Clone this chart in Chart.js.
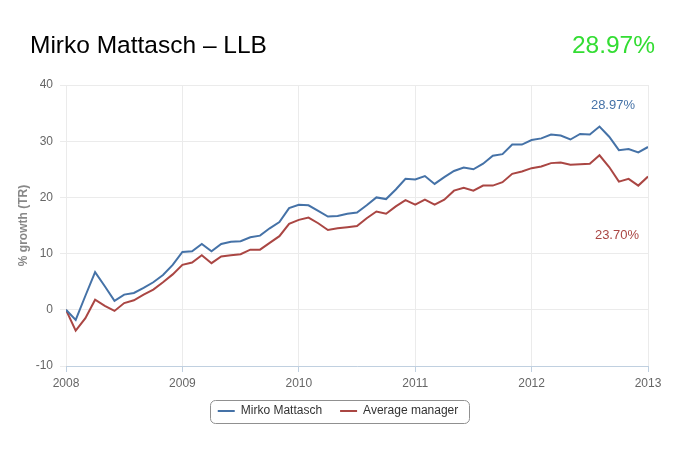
<!DOCTYPE html>
<html lang="en">
<head>
  <meta charset="UTF-8">
  <title>Mirko Mattasch – LLB</title>
  <script src="https://cdn.jsdelivr.net/npm/chart.js"></script>
  <style>
    body { margin: 0; background: #fff; font-family: Arial, 'Liberation Sans', sans-serif; }
    .wrap { position: relative; width: 700px; height: 459px; }
    .head { position: absolute; top: 33px; left: 30px; right: 45px; height: 24px; line-height: 24px; font-size: 24.5px; }
    .head .name { position: absolute; left: 0; color: #000; }
    .head .total { position: absolute; right: 0; color: #33dd33; }
    canvas { position: absolute; left: 0; top: 0; }
  </style>
</head>
<body>
  <div class="wrap">
    <canvas id="growthChart" width="700" height="459"></canvas>
    <div class="head">
      <span class="name">Mirko Mattasch – LLB</span>
      <span class="total" id="total"></span>
    </div>
  </div>

  <script>
    // monthly cumulative growth, Jan 2008 .. Jan 2013
    const startYear = 2008;
    const years = [2008, 2009, 2010, 2011, 2012, 2013];
    const yTicks = [-10, 0, 10, 20, 30, 40];
    const seriesNames = ['Mirko Mattasch', 'Average manager'];

    const mirko = [
      0, -1.8, 2.5, 6.7, 4.2, 1.6, 2.7, 3.0, 3.9, 4.9, 6.2, 8.0,
      10.3, 10.4, 11.7, 10.4, 11.7, 12.1, 12.2, 12.9, 13.2, 14.5, 15.6, 18.1,
      18.7, 18.6, 17.6, 16.6, 16.7, 17.1, 17.3, 18.6, 20.0, 19.7, 21.4, 23.3,
      23.2, 23.8, 22.4, 23.6, 24.7, 25.3, 25.0, 26.0, 27.4, 27.7, 29.4, 29.4,
      30.2, 30.5, 31.2, 31.0, 30.3, 31.3, 31.2, 32.6, 30.8, 28.4, 28.6, 28.0,
      28.97
    ];
    const average = [
      0, -3.7, -1.5, 1.8, 0.7, -0.2, 1.2, 1.7, 2.7, 3.6, 4.9, 6.3,
      8.0, 8.4, 9.7, 8.3, 9.5, 9.7, 9.9, 10.7, 10.7, 11.9, 13.1, 15.3,
      16.0, 16.4, 15.4, 14.2, 14.5, 14.7, 14.9, 16.3, 17.5, 17.1, 18.4, 19.5,
      18.7, 19.6, 18.7, 19.6, 21.2, 21.7, 21.2, 22.1, 22.1, 22.7, 24.2, 24.6,
      25.2, 25.5, 26.1, 26.2, 25.8, 25.9, 26.0, 27.5, 25.4, 22.8, 23.3, 22.1,
      23.70
    ];

    const toPoints = arr => arr.map((v, i) => ({ x: startYear + i / 12, y: v }));
    const fmt = v => v.toFixed(2) + '%';

    document.getElementById('total').textContent = fmt(mirko[mirko.length - 1]);

    // end-of-line value labels
    const endLabels = {
      id: 'endLabels',
      afterDatasetsDraw(chart) {
        const ctx = chart.ctx;
        const offsets = [{ dx: -13, dy: -42 }, { dx: -9, dy: 59 }];
        chart.data.datasets.forEach((ds, i) => {
          const meta = chart.getDatasetMeta(i);
          const pt = meta.data[meta.data.length - 1];
          const v = ds.data[ds.data.length - 1].y;
          ctx.save();
          ctx.font = '13px Arial, "Liberation Sans", sans-serif';
          ctx.fillStyle = ds.borderColor;
          ctx.textAlign = 'right';
          ctx.textBaseline = 'middle';
          ctx.fillText(fmt(v), pt.x + offsets[i].dx, pt.y + offsets[i].dy);
          ctx.restore();
        });
      }
    };

    // border around the legend
    const legendBox = {
      id: 'legendBox',
      afterDraw(chart) {
        const boxes = chart.legend.legendHitBoxes;
        if (!boxes || !boxes.length) return;
        const first = boxes[0], last = boxes[boxes.length - 1];
        const x = first.left - 8;
        const w = last.left + last.width - first.left + 18;
        const cy = first.top + first.height / 2;
        const ctx = chart.ctx;
        ctx.save();
        ctx.strokeStyle = '#909090';
        ctx.lineWidth = 1;
        ctx.beginPath();
        ctx.roundRect(Math.round(x) + 0.5, Math.round(cy - 11.5) + 0.5, Math.round(w), 23, 5);
        ctx.stroke();
        ctx.restore();
      }
    };

    new Chart(document.getElementById('growthChart'), {
      type: 'line',
      data: {
        datasets: [
          { label: seriesNames[0], data: toPoints(mirko), borderColor: '#4572A7', backgroundColor: '#4572A7' },
          { label: seriesNames[1], data: toPoints(average), borderColor: '#AA4643', backgroundColor: '#AA4643' }
        ]
      },
      options: {
        responsive: false,
        animation: false,
        layout: { padding: { top: 85, left: 28, right: 52, bottom: 32 } },
        elements: {
          line: { borderWidth: 2, tension: 0 },
          point: { radius: 0 }
        },
        scales: {
          x: {
            type: 'linear',
            min: years[0],
            max: years[years.length - 1],
            afterBuildTicks: a => { a.ticks = years.map(v => ({ value: v })); },
            afterFit: a => { a.height = 21; },
            grid: { color: '#ebebeb', tickColor: '#C0D0E0', tickLength: 6 },
            border: { color: '#C0D0E0' },
            ticks: { color: '#666', font: { size: 12 }, padding: 4, maxRotation: 0, callback: v => String(v) }
          },
          y: {
            min: yTicks[0],
            max: yTicks[yTicks.length - 1],
            afterBuildTicks: a => { a.ticks = yTicks.map(v => ({ value: v })); },
            afterFit: a => { a.width = 38; },
            grid: { color: '#ebebeb', tickLength: 6 },
            border: { display: false },
            ticks: { color: '#666', font: { size: 12 }, padding: 7 },
            title: {
              display: true,
              text: '% growth (TR)',
              color: '#888',
              font: { size: 12, weight: 'bold' },
              padding: { top: -12, bottom: 0 }
            }
          }
        },
        plugins: {
          title: { display: false },
          tooltip: { enabled: false },
          legend: {
            position: 'bottom',
            labels: {
              color: '#333',
              font: { size: 12 },
              boxWidth: 17,
              boxHeight: 2,
              padding: 18,
              generateLabels: chart => Chart.defaults.plugins.legend.labels.generateLabels(chart)
                .map(l => Object.assign(l, { lineWidth: 0, fillStyle: l.strokeStyle }))
            }
          }
        }
      },
      plugins: [endLabels, legendBox]
    });
  </script>
</body>
</html>
